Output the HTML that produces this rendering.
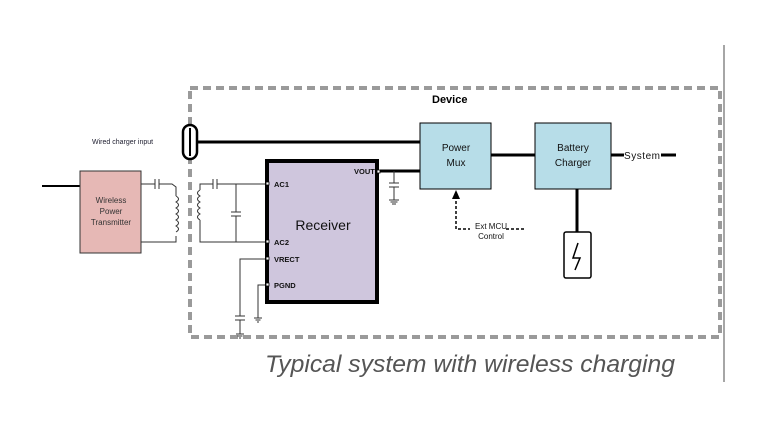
<!DOCTYPE html>
<html><head><style>body{margin:0;background:#fff}svg{display:block}</style></head><body>
<svg width="768" height="432" xmlns="http://www.w3.org/2000/svg" font-family="Liberation Sans, sans-serif">
<rect x="190" y="88" width="530" height="249" fill="none" stroke="#9a9a9a" stroke-width="4" stroke-dasharray="8,5"/>
<line x1="724" y1="45" x2="724" y2="382" stroke="#888" stroke-width="1.5"/>
<text x="432" y="103" font-size="11" font-weight="bold">Device</text>
<text x="92" y="144" font-size="7" fill="#223">Wired charger input</text>
<line x1="190" y1="142" x2="420" y2="142" stroke="#000" stroke-width="3"/>
<rect x="183" y="125" width="14" height="34" rx="7" fill="#fff" stroke="#000" stroke-width="2.5"/>
<line x1="190" y1="128" x2="190" y2="156" stroke="#000" stroke-width="2"/>
<line x1="42" y1="186" x2="81" y2="186" stroke="#000" stroke-width="2"/>
<rect x="80" y="171" width="61" height="82" fill="#e6b8b5" stroke="#333" stroke-width="1"/>
<text font-size="8" fill="#333" text-anchor="middle"><tspan x="111" y="203">Wireless</tspan><tspan x="111" y="214">Power</tspan><tspan x="111" y="225">Transmitter</tspan></text>
<g stroke="#333" stroke-width="1" fill="none">
<path d="M141 184H155M159 184H172L176 187V196M176 236V242H141"/>
<line x1="155" y1="179" x2="155" y2="189"/><line x1="159" y1="179" x2="159" y2="189"/>
<path d="M176 196 q5 3 0 6 q5 3 0 6 q5 3 0 6 q5 3 0 6 q5 3 0 6 q5 3 0 6"/>
<path d="M200 190 q-5 3 0 6 q-5 3 0 6 q-5 3 0 6 q-5 3 0 6 q-5 3 0 6"/>
<path d="M200 190V184H213M217 184H266M236 184V212M236 216V242M200 220V242H266"/>
<line x1="213" y1="179" x2="213" y2="189"/><line x1="217" y1="179" x2="217" y2="189"/>
<line x1="231" y1="212" x2="241" y2="212"/><line x1="231" y1="216" x2="241" y2="216"/>
<path d="M266 259H240V316M266 285H258V318"/>
<line x1="235" y1="316" x2="245" y2="316"/><line x1="235" y1="320" x2="245" y2="320"/>
<path d="M240 320V334M236 334H244M237.5 336H242.5M239 338H241"/>
<path d="M254 318H262M255.5 320H260.5M257 322H259"/>
</g>
<rect x="267" y="161" width="110" height="141" fill="#cfc6dd" stroke="#000" stroke-width="4"/>
<text x="323" y="230" font-size="14" text-anchor="middle" fill="#111">Receiver</text>
<g font-size="7.5" fill="#111" font-weight="bold"><text x="274" y="187">AC1</text><text x="274" y="245">AC2</text><text x="274" y="262">VRECT</text><text x="274" y="288">PGND</text><text x="354" y="174">VOUT</text></g>
<g fill="#fff" stroke="#000" stroke-width="0.8"><rect x="266" y="182" width="3" height="3"/><rect x="266" y="240" width="3" height="3"/><rect x="266" y="257" width="3" height="3"/><rect x="266" y="283" width="3" height="3"/><rect x="377" y="170" width="3" height="3"/></g>
<line x1="380" y1="171" x2="420" y2="171" stroke="#000" stroke-width="3"/>
<g stroke="#333" stroke-width="1"><path d="M394 171V183M389 183H399M389 187H399M394 187V200M389 200H399M390.5 202H397.5M392 204H396"/></g>
<rect x="420" y="123" width="71" height="66" fill="#b7dde8" stroke="#000" stroke-width="1"/>
<text font-size="10" fill="#111" text-anchor="middle"><tspan x="456" y="151">Power</tspan><tspan x="456" y="166">Mux</tspan></text>
<rect x="535" y="123" width="76" height="66" fill="#b7dde8" stroke="#000" stroke-width="1"/>
<text font-size="10" fill="#111" text-anchor="middle"><tspan x="573" y="151">Battery</tspan><tspan x="573" y="166">Charger</tspan></text>
<line x1="491" y1="155" x2="535" y2="155" stroke="#000" stroke-width="3"/>
<line x1="611" y1="155" x2="624" y2="155" stroke="#000" stroke-width="3"/>
<text x="624" y="159" font-size="10" fill="#111" textLength="36">System</text>
<line x1="661" y1="155" x2="676" y2="155" stroke="#000" stroke-width="3"/>
<line x1="577" y1="189" x2="577" y2="234" stroke="#000" stroke-width="3"/>
<rect x="564" y="232" width="27" height="46" rx="2" fill="#fff" stroke="#000" stroke-width="1.5"/>
<path d="M578 243L573 258H580L575 270" fill="none" stroke="#000" stroke-width="1.5"/>
<path d="M456 196V229H470M506 229H524" fill="none" stroke="#000" stroke-width="1.5" stroke-dasharray="3,2"/>
<path d="M452 199L456 190L460 199Z" fill="#000"/>
<text font-size="8" fill="#111" text-anchor="middle"><tspan x="491" y="229">Ext MCU</tspan><tspan x="491" y="239">Control</tspan></text>
<text x="265" y="372" font-size="24" font-style="italic" fill="#555" textLength="410" lengthAdjust="spacingAndGlyphs">Typical system with wireless charging</text>
</svg>
</body></html>
